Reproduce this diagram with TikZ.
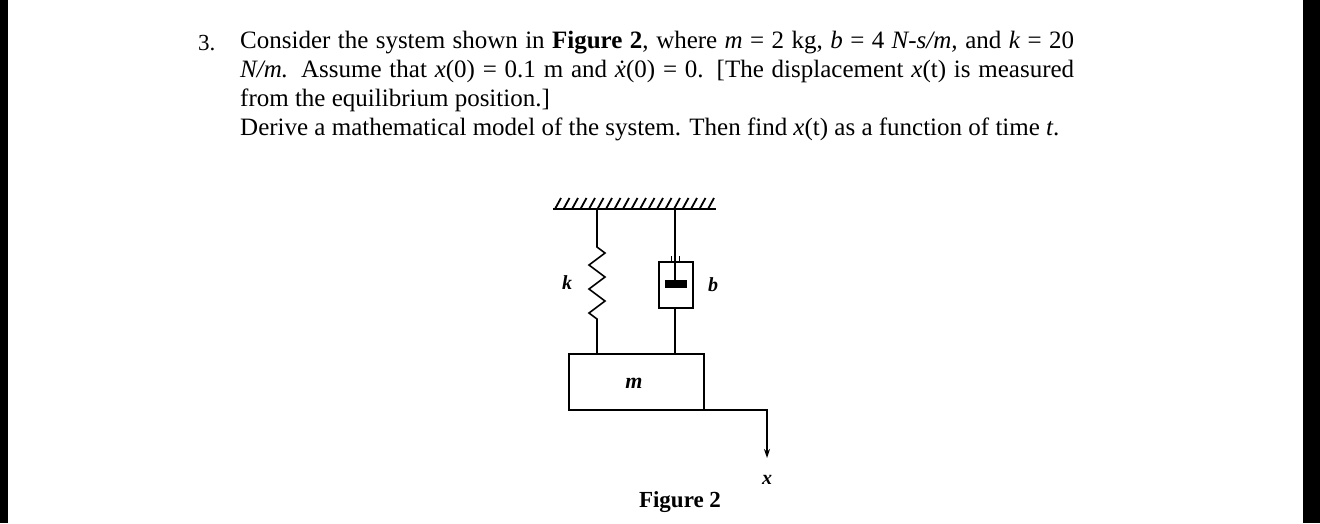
\documentclass[tikz,border=0pt]{standalone}
\usepackage{fontspec}
\setmainfont{Liberation Serif}
\usetikzlibrary{arrows.meta,decorations.pathmorphing}
\begin{document}
\begin{tikzpicture}[x=1pt,y=-1pt,
  ln/.style={line width=1.6pt},
  lbl/.style={font=\fontsize{20}{20}\selectfont\bfseries\itshape}]
\useasboundingbox (0,0) rectangle (1320,523);
\fill[black] (0,0) rectangle (8,523);
\fill[black] (1303,0) rectangle (1320,523);
% text
\node[anchor=base west,inner sep=0,font=\fontsize{23}{29}\selectfont] (num) at (198,50) {3.};
\node[anchor=north west,inner sep=0,text width=834pt,align=justify,font=\fontsize{25}{29}\selectfont] (txt) at (240,31)
 {Consider the system shown in \textbf{Figure 2}, where \textit{m} = 2 kg, \textit{b} = 4 \textit{N-s/m,} and \textit{k} = 20\linebreak
 \textit{N/m.} Assume that \textit{x}(0) = 0.1 m and \textit{ẋ}(0) = 0. [The displacement \textit{x}(t) is measured\linebreak
 from the equilibrium position.]\\
 Derive a mathematical model of the system. Then find \textit{x}(t) as a function of time \textit{t}.\par};
% ground
\coordinate (g1) at (553,209); \coordinate (g2) at (716,209);
\draw[line width=2pt] (g1) -- (g2);
\foreach \i in {0,...,18} \draw[line width=1.8pt] (555+8.5*\i,209) -- +(6,-11);
% mass
\node[draw,ln,minimum width=135pt,minimum height=56pt,inner sep=0] (m) at (636.5,382) {};
\node[lbl] at (634,383) {\fontsize{22}{22}\selectfont\textit{m}};
% spring
\coordinate (s1) at (597,209); \coordinate (s2) at (597,354);
\draw[ln] (s1) -- (597,247) -- (605,253) -- (589,265) -- (605,277) -- (589,289) -- (605,301) -- (589,313) -- (597,319) -- (s2);
\node[lbl] (k) at (567,283) {k};
% damper
\coordinate (d1) at (675,209); \coordinate (d2) at (675,354);
\draw[ln] (d1) -- (675,283);
\draw[ln] (659,262) rectangle (693,308);
\fill (665,280) rectangle (687,288);
\draw[ln] (675,308) -- (d2);
\draw[line width=0.8pt] (671,262) -- (671,256) (679,262) -- (679,256);
\node[lbl] (b) at (713,285) {b};
% x arrow
\coordinate (a0) at (704,410); \coordinate (a1) at (767,410); \coordinate (a2) at (767,458);
\draw[ln,-{Stealth[length=9pt,width=6pt]}] (a0) -- (a1) -- (a2);
\node[lbl] (x) at (767,480) {x};
\node[font=\fontsize{23}{23}\selectfont\bfseries] (cap) at (680,502) {Figure 2};
\end{tikzpicture}
\end{document}
